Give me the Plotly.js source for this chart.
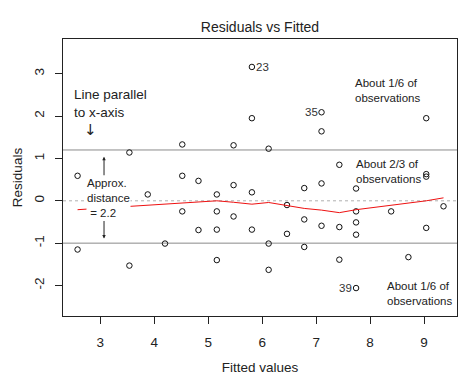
<!DOCTYPE html>
<html>
<head>
<meta charset="utf-8">
<script src="https://cdn.plot.ly/plotly-3.0.1.min.js"></script>
<style>html,body{margin:0;padding:0;background:#fff;}#chart{width:474px;height:386px;}</style>
</head>
<body>
<div id="chart"></div>
<script>
// Fitted values and residuals
const fitted = [2.58,2.58,3.54,3.54,3.88,4.20,4.52,4.52,4.52,4.82,4.82,5.16,5.16,5.16,5.16,5.47,5.47,5.47,
  5.81,5.81,5.81,5.81,6.12,6.12,6.12,6.46,6.46,6.78,6.78,6.78,7.10,7.10,7.10,7.10,7.43,7.43,7.43,
  7.74,7.74,7.74,7.74,7.74,8.39,8.71,9.04,9.04,9.04,9.04,9.36];
const residuals = [0.59,-1.15,1.14,-1.53,0.15,-1.01,1.33,0.59,-0.25,0.47,-0.69,0.15,-0.25,-0.68,-1.40,1.31,0.37,-0.37,
  3.16,1.95,0.20,-0.68,1.23,-1.01,-1.63,-0.10,-0.78,0.30,-0.44,-1.09,2.09,1.64,0.41,-0.59,0.85,-0.62,-1.39,
  0.29,-0.25,-0.51,-0.80,-2.06,-0.25,-1.33,1.95,0.63,0.57,-0.64,-0.13];

// Smoother (red line)
const smoothX = [2.58,3.54,3.88,4.20,4.52,4.82,5.16,5.47,5.81,6.12,6.46,6.78,7.10,7.43,7.74,8.39,8.71,9.04,9.36];
const smoothY = [-0.21,-0.13,-0.10,-0.08,-0.05,-0.03,0.00,-0.035,-0.08,-0.04,-0.11,-0.18,-0.22,-0.28,-0.21,-0.10,-0.06,0.00,0.07];

// Labelled observations: observation number and its index in the arrays above
const labelNames = ["23","35","39"];
const labelIndex = [18,30,41];
const labelSide = ["right","left","left"];

// Reference lines
const bandUpper = 1.2;
const bandLower = -1.0;

const xTicks = [3,4,5,6,7,8,9];
const yTicks = [-2,-1,0,1,2,3];

const FONT = "Liberation Sans, Arial, sans-serif";
const TXT = "#222";

const traces = [
  {x: fitted, y: residuals, type: "scatter", mode: "markers",
   marker: {symbol: "circle-open", size: 5.5, color: "#111", line: {width: 1, color: "#111"}},
   hoverinfo: "skip", showlegend: false},
  {x: smoothX, y: smoothY, type: "scatter", mode: "lines",
   line: {color: "#ee1111", width: 1}, hoverinfo: "skip", showlegend: false}
];

const annotations = [];
labelNames.forEach((nm, k) => {
  const i = labelIndex[k];
  annotations.push({x: fitted[i], y: residuals[i], xref: "x", yref: "y", text: nm, showarrow: false,
    xanchor: labelSide[k] === "right" ? "left" : "right", yanchor: "middle",
    xshift: labelSide[k] === "right" ? 2 : -2,
    font: {family: FONT, size: 11.5, color: "#333"}});
});

// Explanatory notes
annotations.push(
  {x: 2.48, y: 2.29, xref: "x", yref: "y", text: "Line parallel<br>to x-axis", showarrow: false,
   xanchor: "left", yanchor: "middle", align: "left", font: {family: FONT, size: 13.5, color: TXT}},
  {x: 2.82, y: 1.66, xref: "x", yref: "y", text: "↓", showarrow: false,
   xanchor: "center", yanchor: "middle", font: {family: "DejaVu Sans, sans-serif", size: 15, color: TXT}},
  {x: 2.73, y: 0.07, xref: "x", yref: "y", text: "Approx.<br>distance<br>\u00a0= 2.2", showarrow: false,
   xanchor: "left", yanchor: "middle", align: "left", bgcolor: "#ffffff", borderpad: 0,
   font: {family: FONT, size: 11.5, color: TXT}},
  {x: 3.07, y: 1.04, xref: "x", yref: "y", text: "", showarrow: true, ax: 0, ay: 20,
   arrowhead: 2, arrowsize: 0.7, arrowwidth: 1, arrowcolor: TXT},
  {x: 3.07, y: -0.89, xref: "x", yref: "y", text: "", showarrow: true, ax: 0, ay: -19,
   arrowhead: 2, arrowsize: 0.7, arrowwidth: 1, arrowcolor: TXT},
  {x: 7.68, y: 2.60, xref: "x", yref: "y", text: "About 1/6 of<br>observations", showarrow: false,
   xanchor: "left", yanchor: "middle", align: "left", font: {family: FONT, size: 11.5, color: TXT}},
  {x: 7.70, y: 0.70, xref: "x", yref: "y", text: "About 2/3 of<br>observations", showarrow: false,
   xanchor: "left", yanchor: "middle", align: "left", font: {family: FONT, size: 11.5, color: TXT}},
  {x: 8.27, y: -2.20, xref: "x", yref: "y", text: "About 1/6 of<br>observations", showarrow: false,
   xanchor: "left", yanchor: "middle", align: "left", font: {family: FONT, size: 11.5, color: TXT}}
);

const layout = {
  width: 474, height: 386,
  margin: {l: 63, r: 17, t: 39, b: 70, pad: 0},
  paper_bgcolor: "#fff", plot_bgcolor: "#fff",
  font: {family: FONT, size: 13, color: TXT},
  title: {text: "Residuals vs Fitted", font: {family: FONT, size: 14, color: TXT},
          x: 0.5, xref: "paper", xanchor: "center", y: 1 - 27/386, yanchor: "middle"},
  xaxis: {range: [2.31, 9.61], tickvals: xTicks, ticktext: xTicks.map(String),
          ticks: "outside", ticklen: 7, tickcolor: "#222", tickwidth: 1,
          showgrid: false, zeroline: false, showline: true, mirror: true, linecolor: "#222", linewidth: 1,
          tickfont: {family: FONT, size: 13.5, color: TXT}, ticklabelstandoff: 7,
          title: {text: "Fitted values", font: {family: FONT, size: 13.5, color: TXT}, standoff: 13}},
  yaxis: {range: [-2.72, 3.82], tickvals: yTicks, ticktext: yTicks.map(String),
          ticks: "outside", ticklen: 7, tickcolor: "#222", tickwidth: 1, tickangle: -90,
          showgrid: false, zeroline: false, showline: true, mirror: true, linecolor: "#222", linewidth: 1,
          tickfont: {family: FONT, size: 13.5, color: TXT}, ticklabelstandoff: 6,
          title: {text: "Residuals", font: {family: FONT, size: 13.5, color: TXT}, standoff: 5}},
  shapes: [
    {type: "line", xref: "paper", x0: 0, x1: 1, yref: "y", y0: bandUpper, y1: bandUpper,
     line: {color: "#8a8a8a", width: 1}, layer: "below"},
    {type: "line", xref: "paper", x0: 0, x1: 1, yref: "y", y0: bandLower, y1: bandLower,
     line: {color: "#8a8a8a", width: 1}, layer: "below"},
    {type: "line", xref: "paper", x0: 0, x1: 1, yref: "y", y0: 0, y1: 0,
     line: {color: "#b0b0b0", width: 1, dash: "dot"}, layer: "below"}
  ],
  annotations: annotations
};

Plotly.newPlot("chart", traces, layout, {staticPlot: true, displayModeBar: false});
</script>
</body>
</html>
